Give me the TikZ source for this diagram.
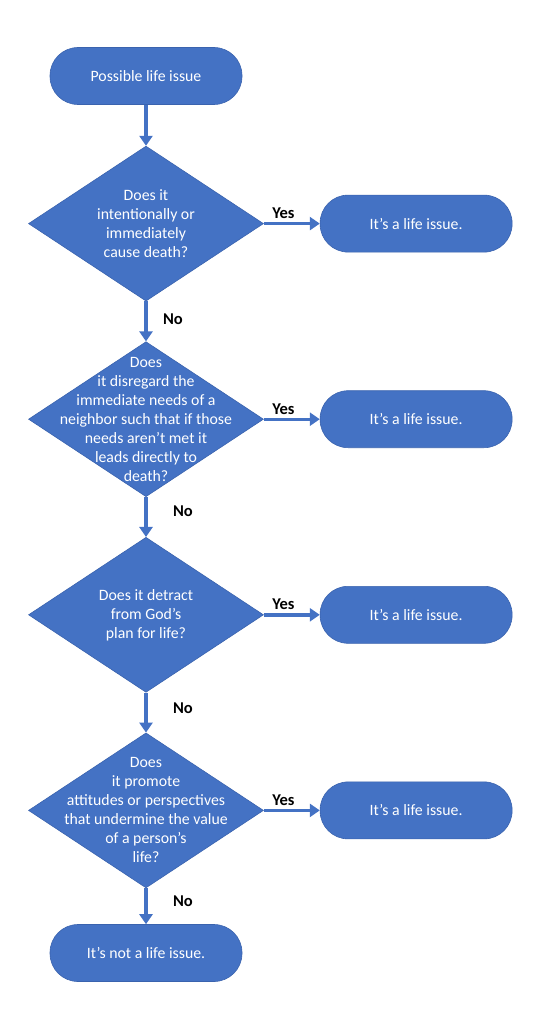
\documentclass[tikz,border=0pt]{standalone}
\usepackage{fontspec}
\setmainfont{Carlito}
\usetikzlibrary{arrows.meta, positioning, shapes.geometric}
\definecolor{officeblue}{HTML}{4472C4}
\definecolor{officeline}{HTML}{3A63AE}

\begin{document}
\begin{tikzpicture}[x=1pt, y=1pt,
			terminal/.style={rectangle, rounded corners=28pt, draw=officeline, line width=0.6pt, fill=officeblue, text=white, minimum width=192pt, minimum height=57pt, font=\fontsize{15.8}{19}\selectfont},
			decision/.style={diamond, draw=officeline, line width=0.6pt, fill=officeblue, minimum width=235pt, minimum height=155pt, inner sep=0pt},
			question/.style={text=white, align=center, font=\fontsize{15.8}{19}\selectfont},
			flow/.style={-{Triangle[length=10pt, width=13pt]}, line width=3.4pt, draw=officeblue},
			answer/.style={font=\fontsize{16.5}{19}\selectfont\bfseries},
			node distance=40pt
			]
			\useasboundingbox (0,0) rectangle (537,-1024);
			
			% ---------------- MAIN COLUMN ----------------
			\node[terminal] (start) at (146,-76) {Possible life issue};
			\node[decision, below=41pt of start] (q1) {};
			\node[decision, below=of q1] (q2) {};
			\node[decision, below=of q2] (q3) {};
			\node[decision, below=of q3] (q4) {};
			\node[terminal, below=36pt of q4] (notissue) {It’s not a life issue.};
			
			\node[question] (q1text) at (q1) {Does it\\intentionally or\\immediately\\cause death?};
			\node[question] (q2text) at (q2) {Does\\it disregard the\\immediate needs of a\\neighbor such that if those\\needs aren’t met it\\leads directly to\\death?};
			\node[question] (q3text) at (q3) {Does it detract\\from God’s\\plan for life?};
			\node[question] (q4text) at (q4) {Does\\it promote\\attitudes or perspectives\\that undermine the value\\of a person’s\\life?};
			
			% ---------------- RESULTS ----------------
			\node[terminal, right=56pt of q1] (r1) {It’s a life issue.};
			\node[terminal, right=56pt of q2] (r2) {It’s a life issue.};
			\node[terminal, right=56pt of q3] (r3) {It’s a life issue.};
			\node[terminal, right=56pt of q4] (r4) {It’s a life issue.};
			
			% ---------------- CONNECTORS ----------------
			\draw[flow] (start) -- (q1);
			\draw[flow] (q1) -- node[answer, right=12pt, pos=0.45] {No} (q2);
			\draw[flow] (q2) -- node[answer, right=22pt, pos=0.35] {No} (q3);
			\draw[flow] (q3) -- node[answer, right=22pt, pos=0.38] {No} (q4);
			\draw[flow] (q4) -- node[answer, right=22pt, pos=0.35] {No} (notissue);
			
			\draw[flow] (q1) -- node[answer, above, pos=0.35] {Yes} (r1);
			\draw[flow] (q2) -- node[answer, above, pos=0.35] {Yes} (r2);
			\draw[flow] (q3) -- node[answer, above, pos=0.35] {Yes} (r3);
			\draw[flow] (q4) -- node[answer, above, pos=0.35] {Yes} (r4);
			
		\end{tikzpicture}
\end{document}
